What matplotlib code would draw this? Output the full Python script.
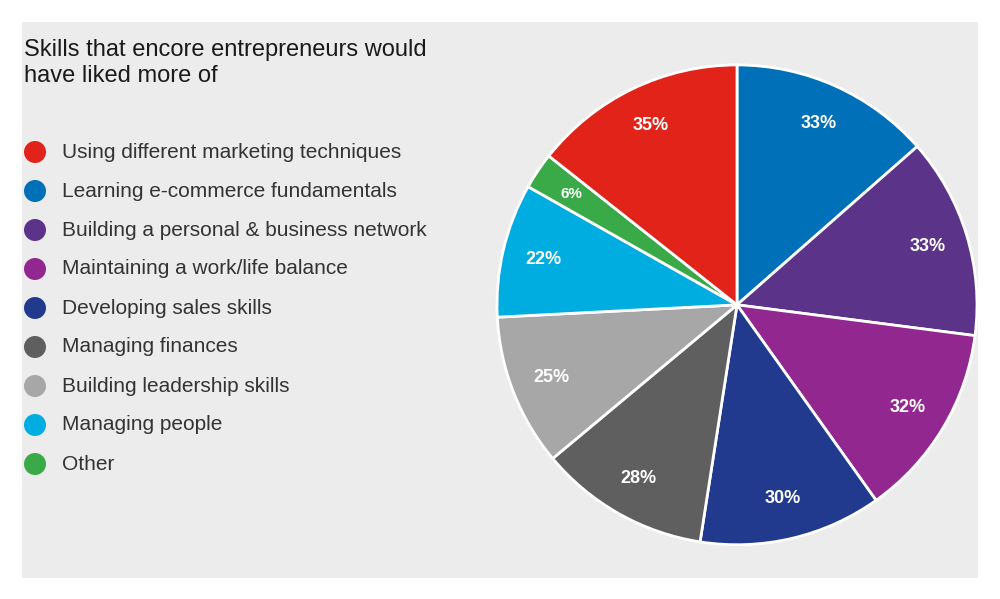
import matplotlib
matplotlib.use("Agg")
import matplotlib.pyplot as plt
from matplotlib.patches import Rectangle

plt.rcParams['font.family'] = ['Liberation Sans', 'DejaVu Sans']

categories = [
    "Using different marketing techniques",
    "Learning e-commerce fundamentals",
    "Building a personal & business network",
    "Maintaining a work/life balance",
    "Developing sales skills",
    "Managing finances",
    "Building leadership skills",
    "Managing people",
    "Other",
]
values = [35, 33, 33, 32, 30, 28, 25, 22, 6]
colors = ["#e2231a", "#0070b8", "#5b3389", "#92278f", "#223a8e",
          "#5f5f5f", "#a7a7a7", "#00ade0", "#3aa948"]

# pie order: clockwise from 12 o'clock, starting with e-commerce, red last
order = [1, 2, 3, 4, 5, 6, 7, 8, 0]
pie_vals = [values[i] for i in order]
pie_cols = [colors[i] for i in order]

fig = plt.figure(figsize=(10, 5.99), dpi=100)
fig.patches.append(Rectangle((0.022, 0.035), 0.956, 0.928, transform=fig.transFigure,
                             facecolor="#ececec", edgecolor="none", zorder=-10))

ax = fig.add_axes([0.497, 0.0906, 0.48, 0.801])
wedges, texts, autotexts = ax.pie(
    pie_vals, colors=pie_cols, startangle=90, counterclock=False,
    autopct=lambda p: f"{round(p * sum(pie_vals) / 100):.0f}%", pctdistance=0.83,
    wedgeprops=dict(edgecolor="white", linewidth=2),
    textprops=dict(color="white", fontsize=13, fontweight="bold"))
autotexts[7].set_fontsize(11)
ax.set_aspect("auto")
ax.set_xlim(-1, 1)
ax.set_ylim(-1, 1)

fig.text(0.024, 0.935, "Skills that encore entrepreneurs would\nhave liked more of",
         fontsize=17, va="top", ha="left", color="#1a1a1a", linespacing=1.25)

for i, (cat, col) in enumerate(zip(categories, colors)):
    y = 1 - (152 + i * 39) / 599
    fig.patches.append(plt.Circle((0.035, y), 0.011, transform=fig.transFigure,
                                  facecolor=col, edgecolor="none"))
    fig.patches[-1].set_transform(fig.dpi_scale_trans)
    fig.patches[-1].center = (0.35, y * 5.99)
    fig.patches[-1].set_radius(0.11)
    fig.text(0.062, y, cat, fontsize=15, va="center", ha="left", color="#333333")

fig.savefig("out.png", dpi=100)
